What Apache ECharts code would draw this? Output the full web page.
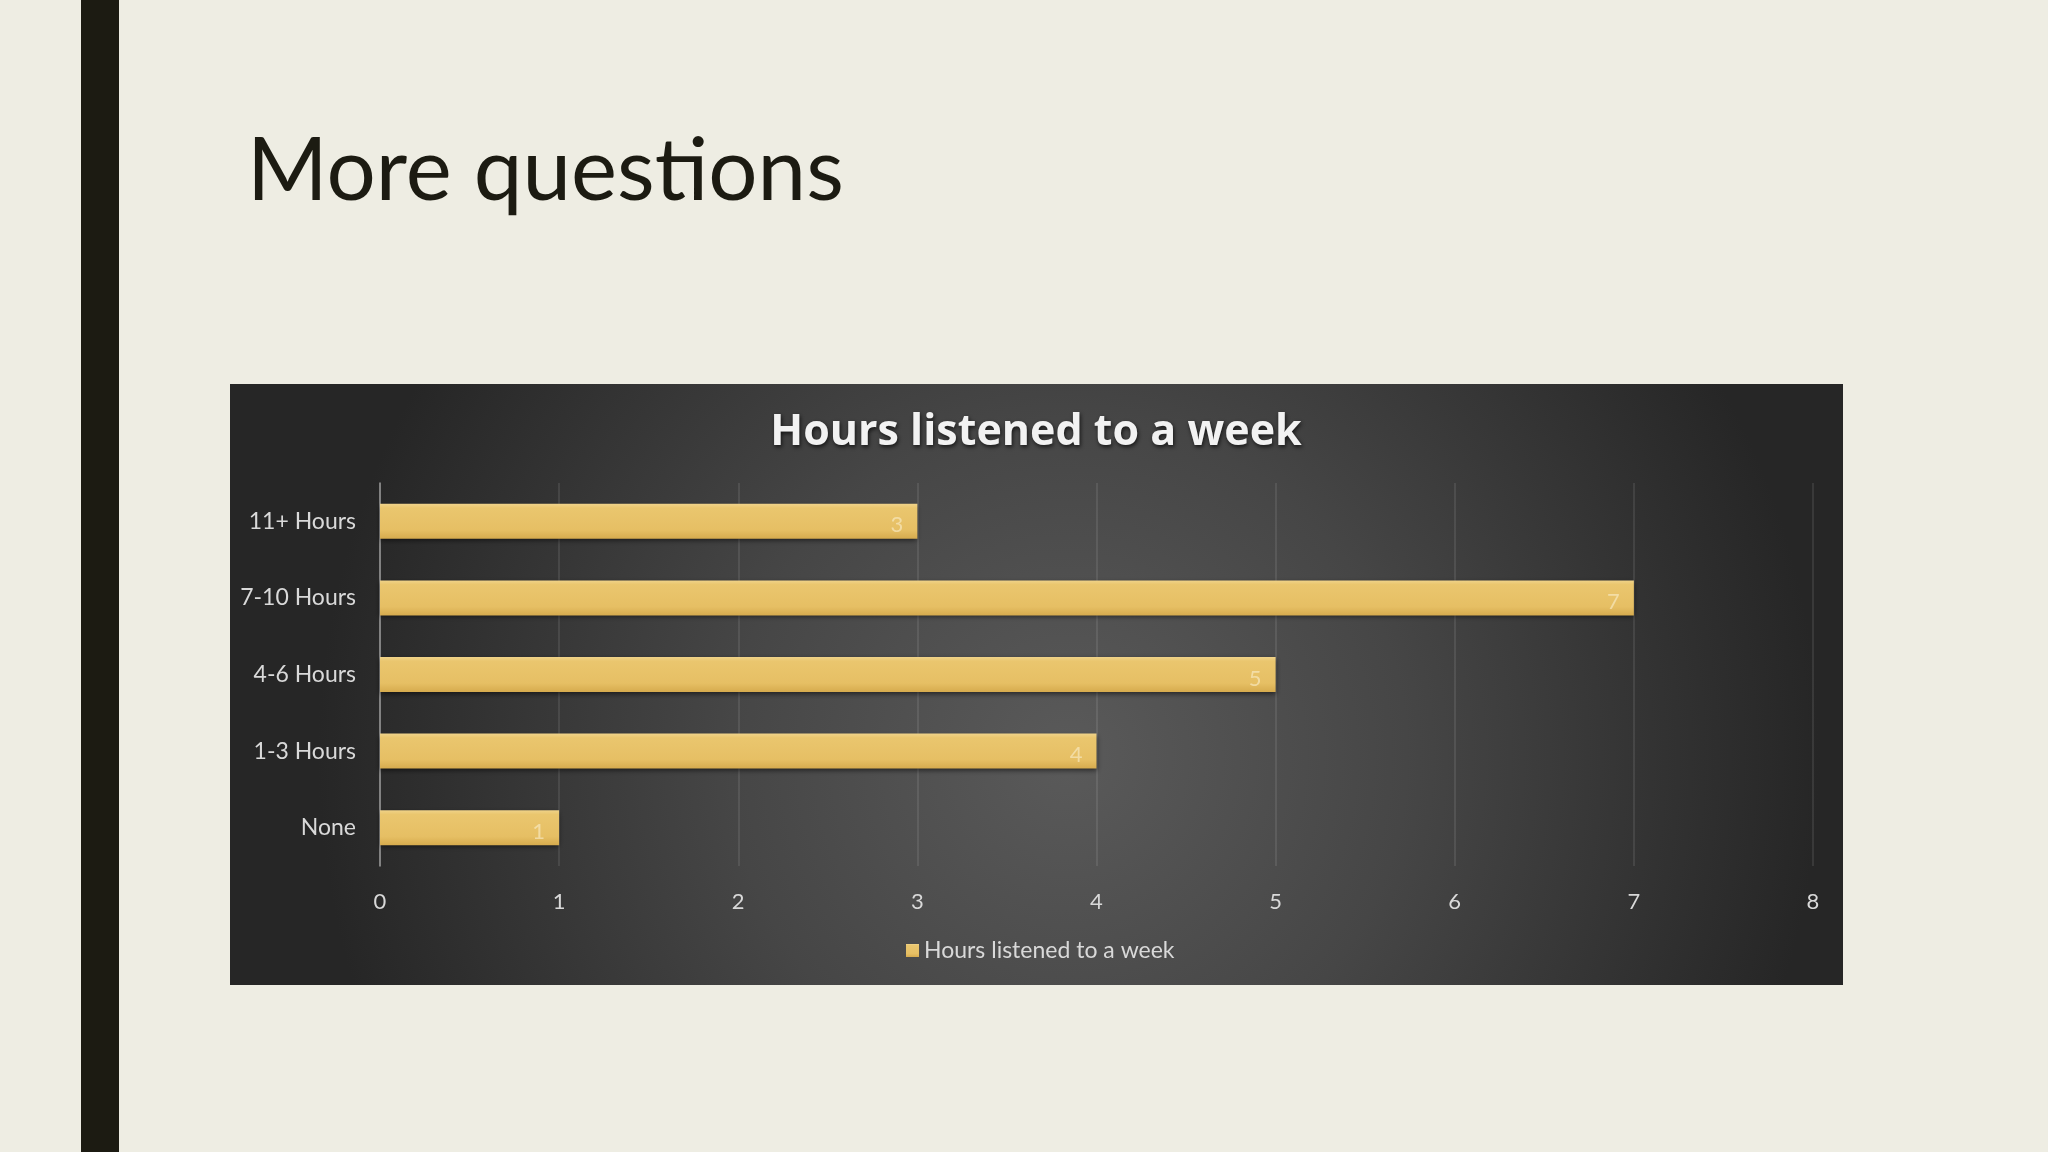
<!DOCTYPE html>
<html>
<head>
<meta charset="utf-8">
<script src="https://cdn.jsdelivr.net/npm/echarts@6/dist/echarts.min.js"></script>
<style>
html,body{margin:0;padding:0;background:#EEEDE3;}
#c{width:2048px;height:1152px;}
</style>
</head>
<body>
<div id="c"></div>
<script>
const slideTitle = "More questions";
const chartTitle = "Hours listened to a week";
const seriesName = "Hours listened to a week";
const categories = ["None", "1-3 Hours", "4-6 Hours", "7-10 Hours", "11+ Hours"];
const values = [1, 4, 5, 7, 3];
const xTicks = { min: 0, max: 8, interval: 1 };

const chart = echarts.init(document.getElementById('c'), null, {renderer: 'canvas'});
const FONT = 'Lato, "Open Sans", sans-serif';

chart.setOption({
  backgroundColor: '#EEEDE3',
  animation: false,
  graphic: [
    { type: 'rect', z: -10, shape: { x: 81, y: 0, width: 38, height: 1152 }, style: { fill: '#1C1B12' } },
    { type: 'text', z: -5, style: { x: 247, y: 172, text: slideTitle, fill: '#1C1B12',
        font: '87px ' + FONT, textVerticalAlign: 'middle', textAlign: 'left' } },
    { type: 'rect', z: -10, shape: { x: 230, y: 384, width: 1613, height: 601 },
      style: { fill: { type: 'radial', x: 0.52, y: 0.62, r: 1.25,
        colorStops: [ { offset: 0, color: '#5a5a5a' }, { offset: 0.45, color: '#464646' }, { offset: 1, color: '#262626' } ] } } }
  ],
  title: {
    text: chartTitle,
    left: 1031, top: 406, textAlign: 'center',
    textStyle: { color: '#F2F2F2', fontSize: 43, fontWeight: 'bold', fontFamily: '"Open Sans", Lato, sans-serif',
      textShadowColor: 'rgba(0,0,0,0.7)', textShadowBlur: 4, textShadowOffsetX: 1, textShadowOffsetY: 2 }
  },
  legend: {
    data: [seriesName], left: 901, top: 934,
    itemWidth: 13, itemHeight: 13, itemGap: 7, icon: 'rect',
    textStyle: { color: '#D9D9D9', fontSize: 23, fontFamily: FONT }
  },
  grid: { left: 380, right: 235, top: 483, bottom: 286, containLabel: false },
  xAxis: {
    type: 'value', min: xTicks.min, max: xTicks.max, interval: xTicks.interval,
    axisLine: { show: false }, axisTick: { show: false },
    splitLine: { lineStyle: { color: 'rgba(255,255,255,0.12)', width: 1.5 } },
    axisLabel: { color: '#D9D9D9', fontSize: 22, fontFamily: FONT, margin: 25 }
  },
  yAxis: {
    type: 'category', data: categories,
    axisLine: { show: true, lineStyle: { color: '#9A9A9A', width: 1.5 } },
    axisTick: { show: false },
    axisLabel: { color: '#D9D9D9', fontSize: 23, fontFamily: FONT, margin: 24 }
  },
  series: [{
    name: seriesName, type: 'bar', data: values, barWidth: 35,
    itemStyle: {
      color: { type: 'linear', x: 0, y: 0, x2: 0, y2: 1, colorStops: [
        { offset: 0, color: '#F0D38A' }, { offset: 0.12, color: '#EAC66E' },
        { offset: 0.75, color: '#E6BF64' }, { offset: 1, color: '#D6AB4E' } ] },
      shadowColor: 'rgba(0,0,0,0.55)', shadowBlur: 5, shadowOffsetY: 2
    },
    label: { show: true, position: 'insideRight', distance: 14, offset: [0, 4],
      color: 'rgba(250,238,205,0.6)', fontSize: 22, fontFamily: FONT }
  }]
});
</script>
</body>
</html>
